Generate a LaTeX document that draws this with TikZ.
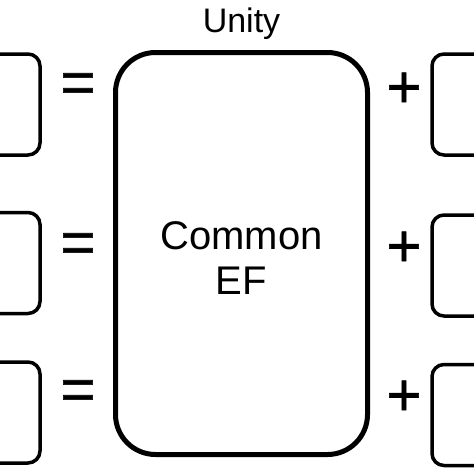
\documentclass[tikz,border=0pt]{standalone}
\usepackage{fontspec}
\setmainfont{Liberation Sans}
\newfontfamily\signfont[FakeBold=1]{Liberation Sans}
\usetikzlibrary{positioning}

\begin{document}
\begin{tikzpicture}[x=1pt,y=-1pt,
  part/.style={draw, line width=3.5pt, rounded corners=12pt, minimum width=200pt, minimum height=101pt, inner sep=0pt},
  sign/.style={font=\signfont\fontsize{60}{60}\selectfont, inner sep=0pt}]

  \useasboundingbox (0,0) rectangle (474,474);

  % Common part
  \node[draw, line width=5pt, rounded corners=40pt, minimum width=252pt, minimum height=402pt] (common) at (241.5,253.5) {};
  \node[align=center, font=\fontsize{40}{45}\selectfont] (label) at ([yshift=-5pt]common.center) {Common\\EF};
  \node[above=10pt of common, inner sep=0pt, font=\fontsize{34}{40}\selectfont] (unity) {Unity};

  % Left parts
  \node[part] (left1) at (-60,104.5) {};
  \node[part] (left2) at (-60,263) {};
  \node[part] (left3) at (-60,412.5) {};

  % Right parts
  \node[part] (right1) at (532,104.5) {};
  \node[part] (right2) at (532,265.5) {};
  \node[part] (right3) at (532,415) {};

  % Signs
  \node[sign] (eq1) at (78,88) {=};
  \node[sign] (eq2) at (78,248) {=};
  \node[sign] (eq3) at (78,395) {=};
  \node[sign] (plus1) at (404,90) {+};
  \node[sign] (plus2) at (404,249) {+};
  \node[sign] (plus3) at (404,398) {+};

\end{tikzpicture}
\end{document}
